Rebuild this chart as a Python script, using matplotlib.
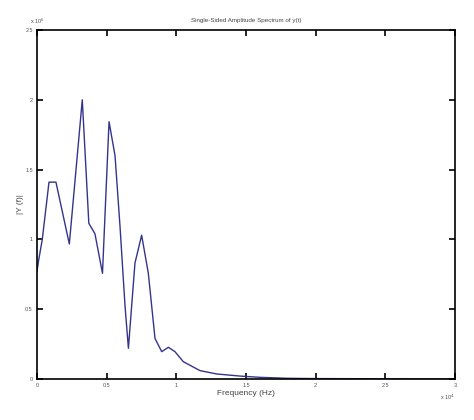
import matplotlib.pyplot as plt
import numpy as np

# spectrum (x in 1e4 Hz, y in 1e6)
freq = [0, 0.01, 0.038, 0.086, 0.136, 0.232, 0.325, 0.372, 0.416, 0.47,
        0.517, 0.56, 0.596, 0.632, 0.656, 0.703, 0.751, 0.799, 0.847, 0.895,
        0.943, 0.99, 1.05, 1.17, 1.29, 1.457, 1.6, 1.8, 2.0, 3.0]
amp = [0.77, 0.84, 1.0, 1.41, 1.41, 0.967, 2.0, 1.115, 1.04, 0.757,
       1.843, 1.60, 1.09, 0.52, 0.22, 0.83, 1.03, 0.757, 0.29, 0.196,
       0.227, 0.196, 0.124, 0.06, 0.036, 0.021, 0.012, 0.005, 0.003, 0.0]

xticks = [0, 0.5, 1, 1.5, 2, 2.5, 3]
xticklabels = ['0', '0.5', '1', '1.5', '2', '2.5', '3']
yticks = [0, 0.5, 1, 1.5, 2, 2.5]
yticklabels = ['0', '0.5', '1', '1.5', '2', '2.5']

plt.rcParams['font.family'] = ['Liberation Sans', 'DejaVu Sans']

fig = plt.figure(figsize=(4.74, 4.2), dpi=100)
ax = fig.add_axes([37 / 474, 1 - 379 / 420, 418 / 474, 349 / 420])

ax.plot(freq, amp, color='#34348c', lw=1.0)

ax.set_xlim(0, 3)
ax.set_ylim(0, 2.5)
ax.set_xticks(xticks)
ax.set_xticklabels(xticklabels)
ax.set_yticks(yticks)
ax.set_yticklabels(yticklabels)
ax.tick_params(direction='in', length=4, width=1.2, labelsize=4,
               labelcolor='#555555', top=True, right=True, pad=3)
for s in ax.spines.values():
    s.set_linewidth(1.2)

ax.set_title('Single-Sided Amplitude Spectrum of y(t)', fontsize=4.5,
             color='#444444', pad=6)
ax.set_xlabel('Frequency (Hz)', fontsize=6, color='#444444', labelpad=1)
ax.set_ylabel('|Y (f)|', fontsize=6, color='#444444', labelpad=1)

fig.text(30 / 474, 1 - 21 / 420, r'x 10$^6$', fontsize=4, color='#555555',
         va='center')
fig.text(440 / 474, 1 - 397 / 420, r'x 10$^4$', fontsize=4, color='#555555',
         va='center')

fig.savefig('out.png', dpi=100)
